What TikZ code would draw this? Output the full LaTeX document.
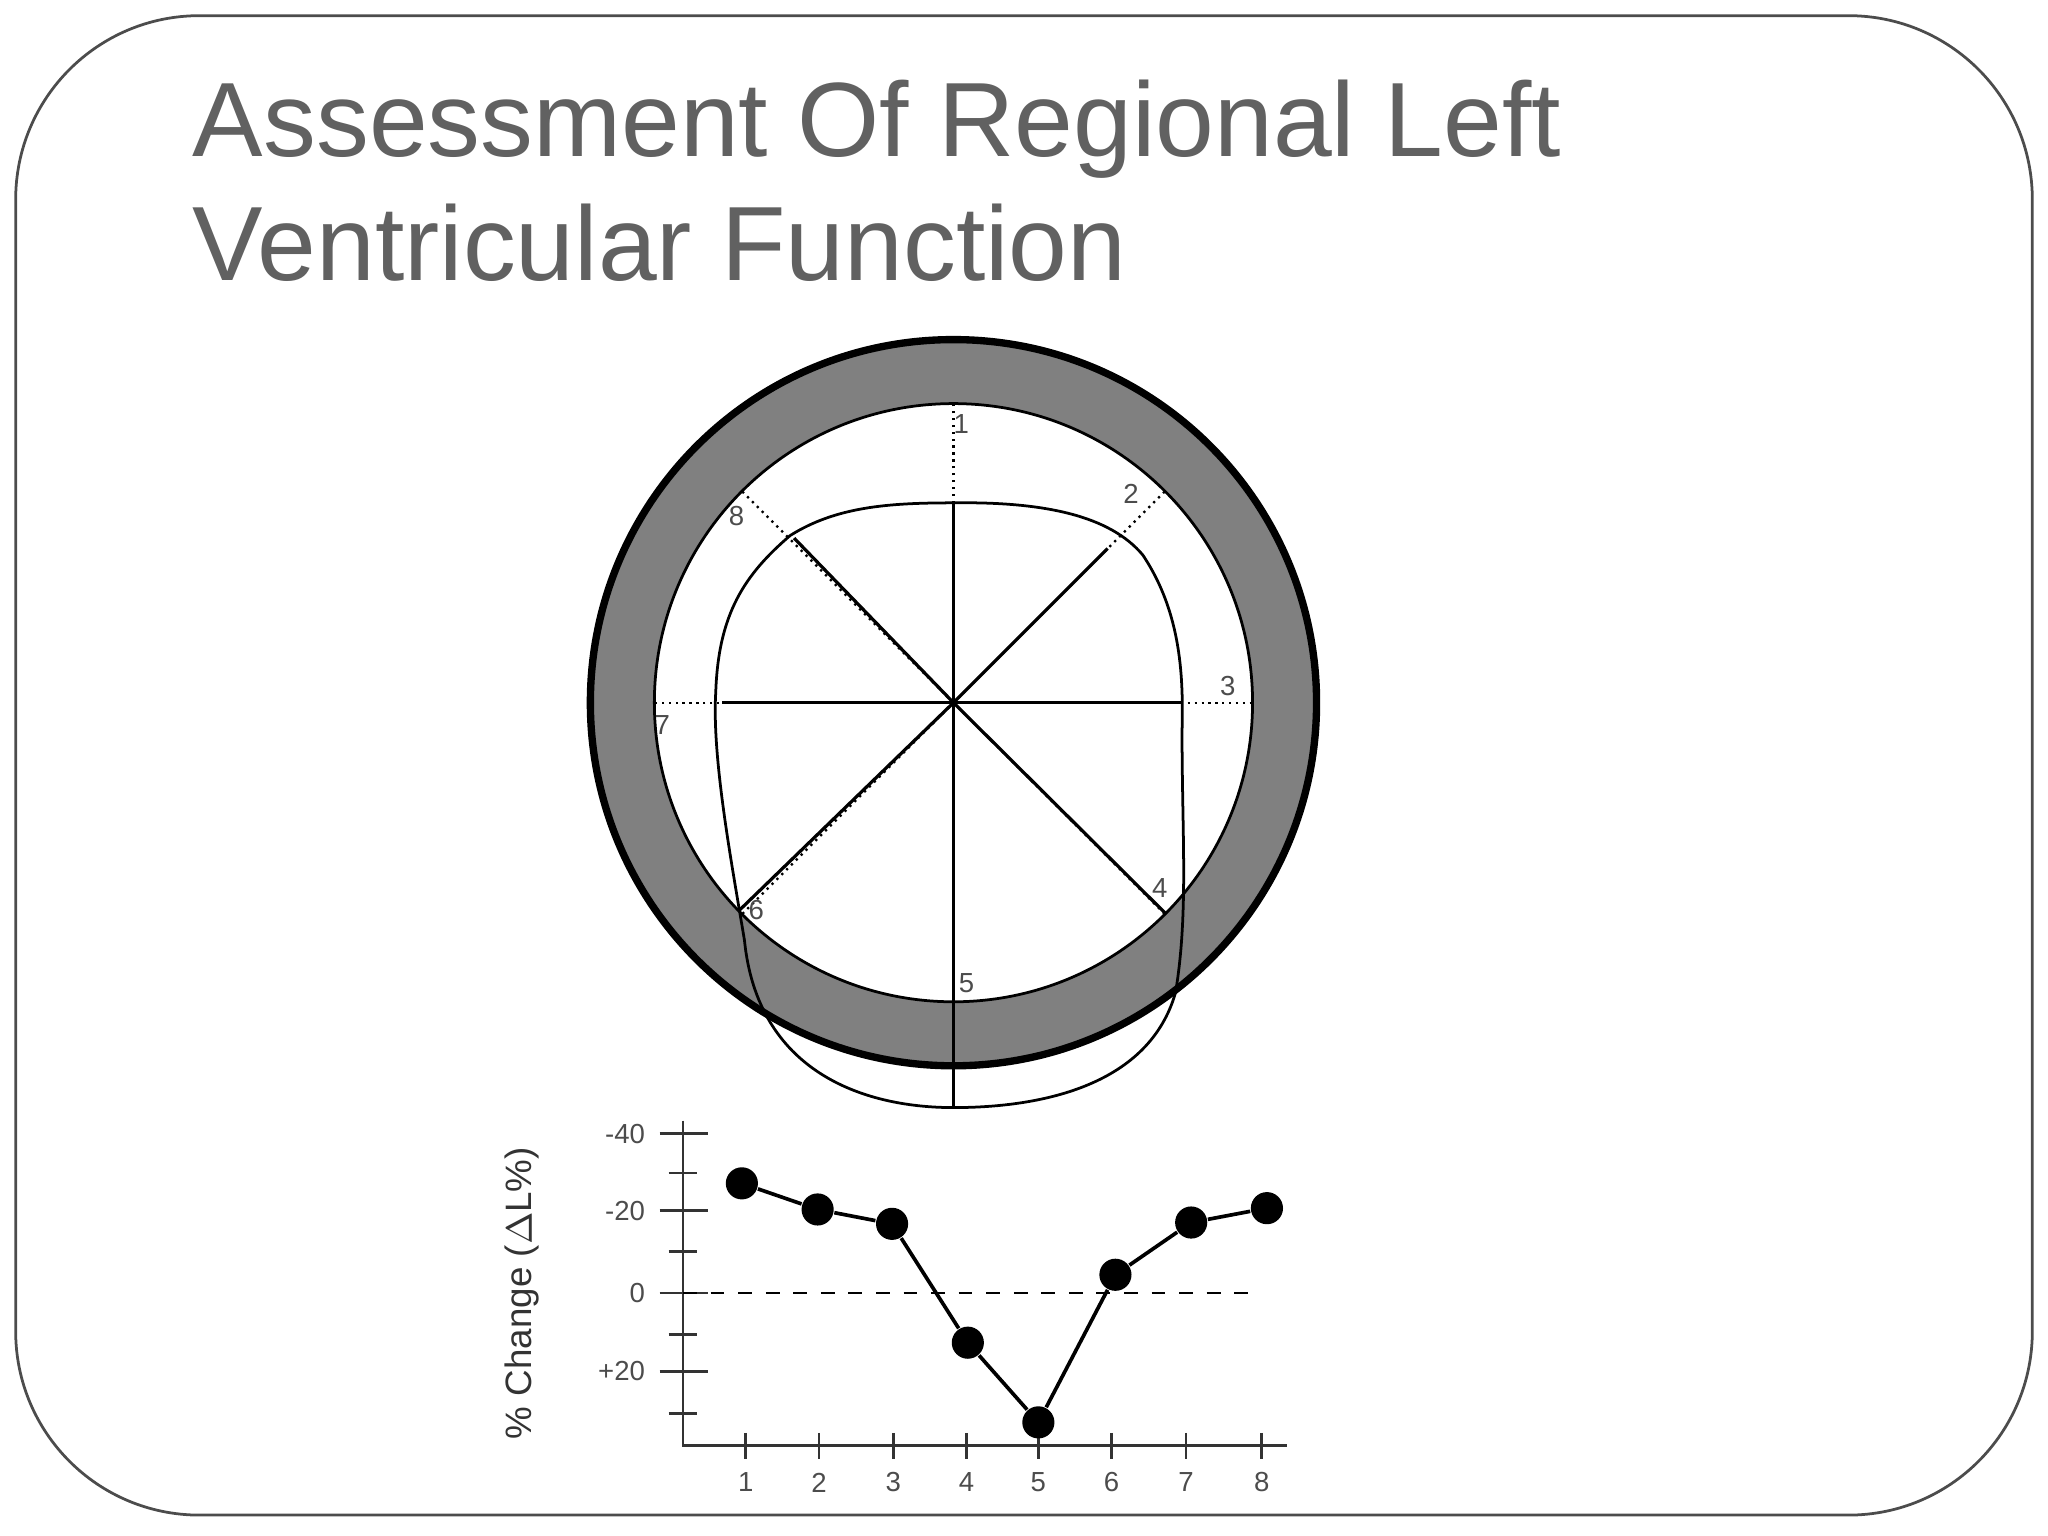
\documentclass[tikz,border=0pt]{standalone}
\usepackage{fontspec}
\setmainfont{Liberation Sans}
\begin{document}
\begin{tikzpicture}[x=0.01cm,y=-0.01cm,
  ttl/.style={anchor=base west,inner sep=0,text=black!62,font=\fontsize{23}{27}\selectfont},
  num/.style={inner sep=1pt,font=\fontsize{5}{6}\selectfont,text=black!70},
  dot/.style={circle,fill=black,inner sep=0,minimum size=7pt},
  dotline/.style={densely dotted,line width=0.5pt},
  ax/.style={line width=0.6pt,black!80}]
\useasboundingbox (0,0) rectangle (1568,1176);
\draw[black!70,line width=0.6pt,rounded corners=40] (12,12) rectangle (1556,1160);
\node[ttl] (t1) at (147,120) {Assessment Of Regional Left};
\node[ttl] (t2) at (147,215) {Ventricular Function};
% ring
\coordinate (c) at (730,538);
\fill[black!50,even odd rule] (c) circle (278) (c) circle (229);
\draw[line width=1.6pt] (c) circle (278);
\draw[line width=0.6pt] (c) circle (229);
% inner shape
\draw[line width=0.6pt] (730,385) .. controls (800,384) and (850,395) .. (875,425)
  .. controls (905,470) and (906,520) .. (905,560)
  .. controls (905,640) and (910,700) .. (900,760)
  .. controls (880,830) and (800,848) .. (730,848)
  .. controls (660,848) and (580,820) .. (570,720)
  .. controls (560,660) and (545,580) .. (548,530)
  .. controls (550,470) and (570,440) .. (605,410)
  .. controls (640,388) and (680,385) .. (730,385);
% solid radii
\coordinate (s1) at (730,385); \coordinate (s2) at (848,420);
\coordinate (s3) at (905,538); \coordinate (s4) at (893,700);
\coordinate (s5) at (730,848); \coordinate (s6) at (566,697);
\coordinate (s7) at (553,538); \coordinate (s8) at (608,412);
\foreach \s in {s1,s2,s3,s4,s5,s6,s7,s8} \draw[line width=0.7pt] (c) -- (\s);
% dotted radii
\foreach \a/\n in {90/1,45/2,0/3,-45/4,-90/5,-135/6,180/7,135/8}
  \draw[dotline] (c) -- ++(\a:229) coordinate (d\n);
\foreach \n/\p in {1/{736,325},2/{866,378},3/{940,525},4/{888,680},5/{740,753},6/{579,697},7/{507,555},8/{564,395}}
  \node[num,font=\fontsize{6}{7}\selectfont] (l\n) at (\p) {\n};
% chart
\coordinate (o) at (523,1107);
\draw[ax] (523,858) -- (o) -- (985,1107);
\foreach \y/\t in {868/-40,927/-20,990/0,1050/+20}{
  \draw[ax] (505,\y) -- (542,\y);
  \node[num,anchor=east,font=\fontsize{6}{7}\selectfont] (y\t) at (498,\y) {\t};}
\foreach \y in {898,958,1022,1082} \draw[ax] (512,\y) -- (534,\y);
\foreach \x/\n in {571/1,627/2,684/3,740/4,795/5,851/6,908/7,966/8}{
  \draw[ax] (\x,1097) -- (\x,1117);
  \node[num,font=\fontsize{6}{7}\selectfont] (x\n) at (\x,1135) {\n};}
\draw[dashed,line width=0.6pt] (523,990) -- (965,990);
\foreach \n/\p in {1/{568,906},2/{626,926},3/{683,937},4/{741,1028},5/{795,1089},6/{854,976},7/{912,936},8/{970,925}}
  \node[dot] (p\n) at (\p) {};
\draw[line width=0.8pt] (p1)--(p2)--(p3)--(p4)--(p5)--(p6)--(p7)--(p8);
\node[rotate=90,inner sep=0,font=\fontsize{8}{9}\selectfont,text=black!80] (yl) at (400,990) {\% Change ($\Delta$L\%)};
\end{tikzpicture}
\end{document}
